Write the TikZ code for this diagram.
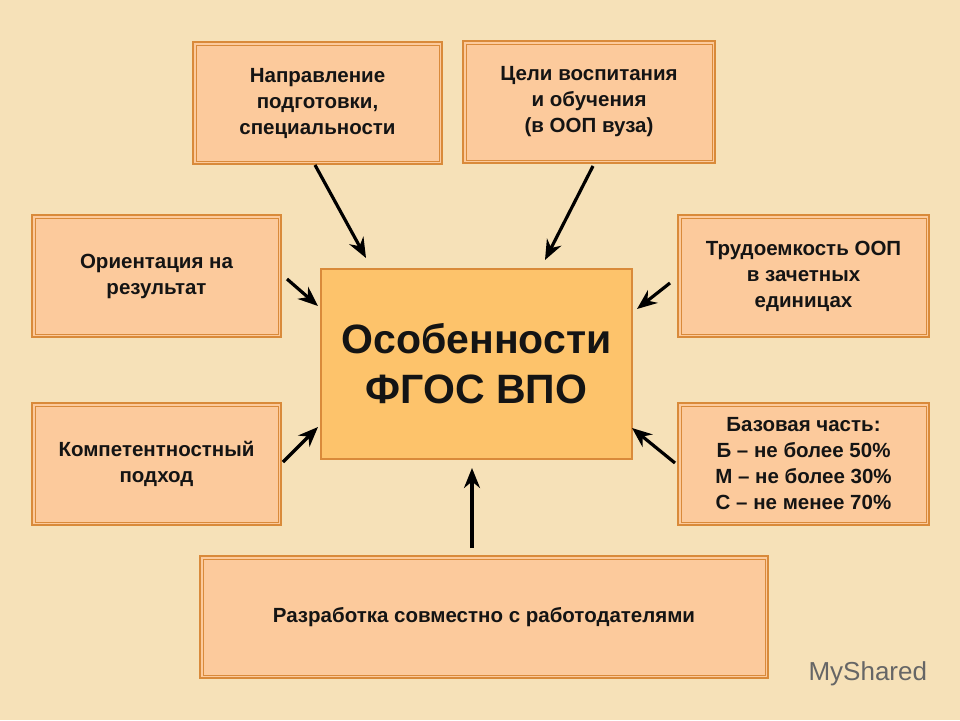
\documentclass[tikz,border=0pt]{standalone}
\usepackage{fontspec}
\setmainfont{Liberation Sans}
\usetikzlibrary{arrows.meta}
\definecolor{bg}{HTML}{F6E1B8}
\definecolor{boxf}{HTML}{FCCA9C}
\definecolor{cenf}{HTML}{FDC36B}
\definecolor{edge}{HTML}{D98A3A}
\begin{document}
\begin{tikzpicture}[x=1pt,y=-1pt,
 bx/.style={draw=edge,line width=1.3pt,fill=boxf},
 bxin/.style={draw=edge,line width=0.9pt},
 txt/.style={align=center,font=\bfseries\fontsize{20.5}{26}\selectfont,text=black!92},
 arr/.style={line width=3.2pt,-{Stealth[length=20pt,width=16pt]}}]
\fill[bg] (0,0) rectangle (960,720);
\useasboundingbox (0,0) rectangle (960,720);
\newcommand{\bxat}[6]{\draw[bx] (#2,#3) rectangle (#4,#5); \draw[bxin] (#2+3,#3+3) rectangle (#4-3,#5-3); \node[txt] (#1) at ({(#2+#4)/2},{(#3+#5)/2}) {#6};}
\bxat{tl}{193}{42}{442}{164}{Направление\\подготовки,\\специальности}
\bxat{tr}{463}{41}{715}{163}{Цели воспитания\\и обучения\\(в ООП вуза)}
\bxat{l1}{32}{215}{281}{337}{Ориентация на\\результат}
\bxat{r1}{678}{215}{929}{337}{Трудоемкость ООП\\в зачетных\\единицах}
\bxat{l2}{32}{403}{281}{525}{Компетентностный\\подход}
\bxat{r2}{678}{403}{929}{525}{Базовая часть:\\Б – не более 50\%\\М – не более 30\%\\С – не менее 70\%}
\bxat{bt}{200}{556}{768}{678}{Разработка совместно с работодателями}
\draw[draw=edge,line width=2.2pt,fill=cenf] (321,269) rectangle (632,459);
\node[align=center,font=\bfseries\fontsize{41}{50}\selectfont,text=black!92] (c) at (476.5,364) {Особенности\\ФГОС ВПО};
\coordinate (a1s) at (315,165); \coordinate (a1e) at (366,258);
\coordinate (a2s) at (593,166); \coordinate (a2e) at (545,260);
\coordinate (a3s) at (287,279); \coordinate (a3e) at (318,306);
\coordinate (a4s) at (670,283); \coordinate (a4e) at (637,309);
\coordinate (a5s) at (283,462); \coordinate (a5e) at (318,427);
\coordinate (a6s) at (675,463); \coordinate (a6e) at (632,428);
\coordinate (a7s) at (472,548); \coordinate (a7e) at (472,468);
\foreach \i in {1,...,7} \draw[arr] (a\i s) -- (a\i e);
\node[text=black!60,font=\fontsize{26}{30}\selectfont,anchor=west] (wm) at (805,674) {MyShared};
\end{tikzpicture}
\end{document}
